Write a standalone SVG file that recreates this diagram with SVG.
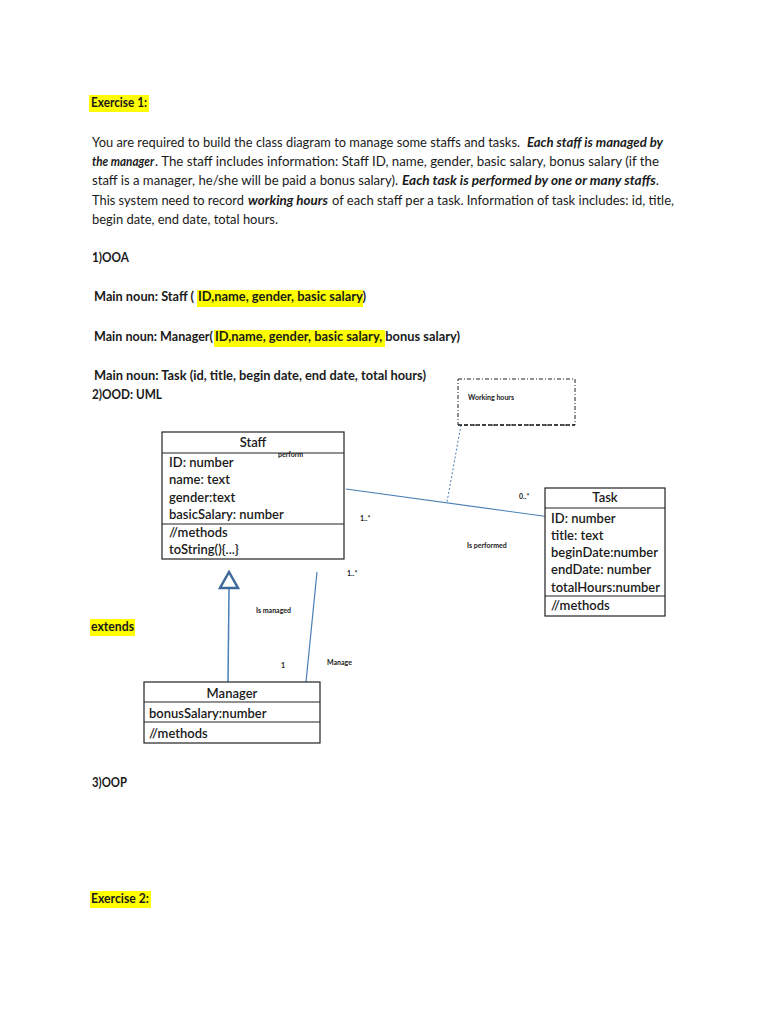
<svg xmlns="http://www.w3.org/2000/svg" width="768" height="1024" viewBox="0 0 768 1024">
<style>
.t{font-family:Lato,"Open Sans","Liberation Sans",sans-serif;fill:#1a1a1a;font-size:13px}
.b{font-weight:bold}
.i{font-weight:bold;font-style:italic}
.c{font-family:Lato,"Open Sans","Liberation Sans",sans-serif;fill:#1a1a1a;font-size:13px;font-weight:600}
.s{font-family:Lato,"Open Sans","Liberation Sans",sans-serif;fill:#1a1a1a;font-size:7px;font-weight:bold}
.box{fill:#fff;stroke:#222;stroke-width:1.2}
.div{stroke:#222;stroke-width:1.2}
.hl{fill:#ffff00}
.con{stroke:#4a7fb5;stroke-width:1.2;fill:none}
</style>
<rect width="768" height="1024" fill="#fff"/>
<g id="text-body">
<rect class="hl" x="89" y="95" width="60" height="17"/>
<text class="t b" x="91" y="107" textLength="56" lengthAdjust="spacingAndGlyphs">Exercise 1:</text>
<text class="t" x="92" y="147" textLength="428" lengthAdjust="spacingAndGlyphs">You are required to build the class diagram to manage some staffs and tasks.</text>
<text class="t i" x="527" y="147" textLength="136" lengthAdjust="spacingAndGlyphs">Each staff is managed by</text>
<text class="t i" x="92" y="166" textLength="62" lengthAdjust="spacingAndGlyphs">the manager</text>
<text class="t" x="155" y="166" textLength="504" lengthAdjust="spacingAndGlyphs">. The staff includes information: Staff ID, name, gender, basic salary, bonus salary (if the</text>
<text class="t" x="92" y="185" textLength="306" lengthAdjust="spacingAndGlyphs">staff is a manager, he/she will be paid a bonus salary).</text>
<text class="t i" x="402" y="185" textLength="257" lengthAdjust="spacingAndGlyphs">Each task is performed by one or many staffs<tspan font-style="normal" font-weight="normal">.</tspan></text>
<text class="t" x="92" y="205" textLength="152" lengthAdjust="spacingAndGlyphs">This system need to record</text>
<text class="t i" x="248" y="205" textLength="80" lengthAdjust="spacingAndGlyphs">working hours</text>
<text class="t" x="332" y="205" textLength="342" lengthAdjust="spacingAndGlyphs">of each staff per a task.  Information of task includes: id, title,</text>
<text class="t" x="92" y="224" textLength="186" lengthAdjust="spacingAndGlyphs">begin date, end date, total hours.</text>
<text class="t b" x="92" y="262" textLength="37" lengthAdjust="spacingAndGlyphs">1)OOA</text>
<rect class="hl" x="197" y="290" width="166" height="17"/>
<text class="t b" x="94" y="301" textLength="100" lengthAdjust="spacingAndGlyphs">Main noun: Staff (</text>
<text class="t b" x="198" y="301" textLength="168" lengthAdjust="spacingAndGlyphs">ID,name, gender, basic salary)</text>
<rect class="hl" x="214" y="330" width="171" height="17"/>
<text class="t b" x="94" y="341" textLength="119" lengthAdjust="spacingAndGlyphs">Main noun: Manager(</text>
<text class="t b" x="215" y="341" textLength="245" lengthAdjust="spacingAndGlyphs">ID,name, gender, basic salary, bonus salary)</text>
<text class="t b" x="94" y="380" textLength="332" lengthAdjust="spacingAndGlyphs">Main noun: Task (id, title, begin date, end date, total hours)</text>
<text class="t b" x="92" y="399" textLength="70" lengthAdjust="spacingAndGlyphs">2)OOD: UML</text>
<rect class="hl" x="90" y="619" width="45" height="17"/>
<text class="t b" x="91" y="631" textLength="43" lengthAdjust="spacingAndGlyphs">extends</text>
<text class="t b" x="92" y="787" textLength="35" lengthAdjust="spacingAndGlyphs">3)OOP</text>
<rect class="hl" x="90" y="891" width="61" height="17"/>
<text class="t b" x="91" y="903" textLength="58" lengthAdjust="spacingAndGlyphs">Exercise 2:</text>
</g>
<g id="connectors">
<line class="con" x1="346" y1="489" x2="550" y2="517"/>
<line x1="461" y1="425" x2="447" y2="502" stroke="#4a7fb5" stroke-width="1" stroke-dasharray="2,2"/>
<line class="con" x1="317" y1="572" x2="306" y2="682"/>
<line x1="228" y1="682" x2="229" y2="589" stroke="#4a7fb5" stroke-width="1.5"/>
<polygon points="229,572 220,588 238,588" fill="#fff" stroke="#3e6a99" stroke-width="2.5" stroke-linejoin="miter"/>
<text class="s" x="360" y="521">1..*</text>
<text class="s" x="519" y="499">0..*</text>
<text class="s" x="467" y="548" font-weight="normal">Is performed</text>
<text class="s" x="347" y="576">1..*</text>
<text class="s" x="256" y="613">Is managed</text>
<text class="s" x="281" y="668">1</text>
<text class="s" x="327" y="665">Manage</text>
</g>
<g id="working-hours">
<rect x="458" y="379" width="117" height="46" fill="none" stroke="#222" stroke-width="1" stroke-dasharray="4,2,1,2"/>
<line x1="458" y1="425" x2="575" y2="425" stroke="#222" stroke-width="1.5" stroke-dasharray="4,2"/>
<text class="s" x="468" y="400" font-size="8" font-weight="normal">Working hours</text>
</g>
<g id="staff">
<rect class="box" x="162" y="432" width="182" height="127"/>
<line class="div" x1="162" y1="453" x2="344" y2="453"/>
<line class="div" x1="162" y1="524" x2="344" y2="524"/>
<text class="c" x="253" y="447" text-anchor="middle">Staff</text>
<text class="c" x="169" y="467">ID: number</text>
<text class="c" x="169" y="484">name: text</text>
<text class="c" x="169" y="502">gender:text</text>
<text class="c" x="169" y="519">basicSalary: number</text>
<text class="c" x="169" y="537">//methods</text>
<text class="c" x="169" y="554">toString(){...}</text>
<text class="s" x="278" y="457">perform</text>
</g>
<g id="task">
<rect class="box" x="545" y="488" width="120" height="128"/>
<line class="div" x1="545" y1="508" x2="665" y2="508"/>
<line class="div" x1="545" y1="596" x2="665" y2="596"/>
<text class="c" x="605" y="502" text-anchor="middle">Task</text>
<text class="c" x="551" y="523">ID: number</text>
<text class="c" x="551" y="540">title: text</text>
<text class="c" x="551" y="557">beginDate:number</text>
<text class="c" x="551" y="574">endDate: number</text>
<text class="c" x="551" y="592">totalHours:number</text>
<text class="c" x="551" y="610">//methods</text>
</g>
<g id="manager">
<rect class="box" x="144" y="682" width="176" height="61"/>
<line class="div" x1="144" y1="702" x2="320" y2="702"/>
<line class="div" x1="144" y1="722" x2="320" y2="722"/>
<text class="c" x="232" y="698" text-anchor="middle" font-weight="normal">Manager</text>
<text class="c" x="149" y="718">bonusSalary:number</text>
<text class="c" x="149" y="738">//methods</text>
</g>
</svg>
